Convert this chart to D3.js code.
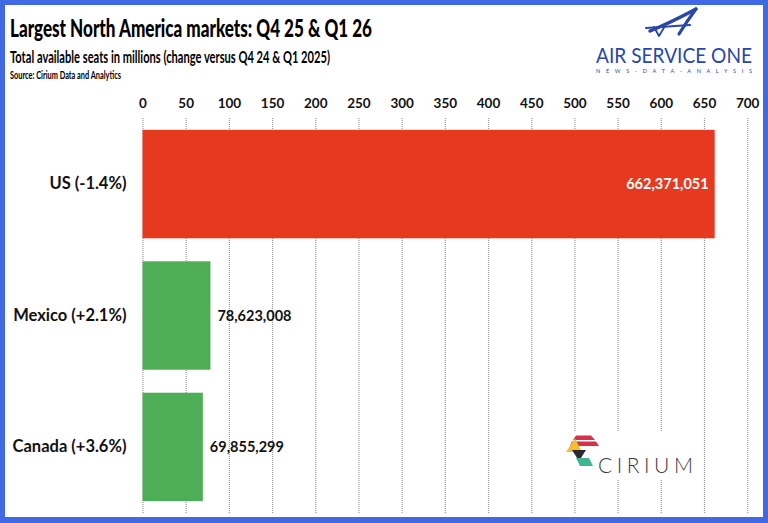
<!DOCTYPE html>
<html>
<head>
<meta charset="utf-8">
<script src="https://cdn.jsdelivr.net/npm/d3@7"></script>
<style>
  html, body { margin: 0; padding: 0; background: #fff; }
  svg { display: block; }
  text { font-family: "Lato", "Open Sans", sans-serif; }
</style>
</head>
<body>
<div id="chart"></div>
<script>
// chart data
var categories = ["US (-1.4%)", "Mexico (+2.1%)", "Canada (+3.6%)"];
var seats = [662371051, 78623008, 69855299];
var barColors = ["#e6391f", "#4fad57"];
var tickValues = [0, 50, 100, 150, 200, 250, 300, 350, 400, 450, 500, 550, 600, 650, 700];

var W = 768, H = 523;
var BLUE = "#4169e1";
var LOGO_BLUE = "#2a47a6";

var svg = d3.select("#chart").append("svg")
    .attr("width", W)
    .attr("height", H);

// frame
svg.append("rect").attr("width", W).attr("height", H).attr("fill", BLUE);
svg.append("rect")
    .attr("x", 5).attr("y", 5)
    .attr("width", W - 10).attr("height", H - 11)
    .attr("fill", "#fff");

// titles
svg.append("text")
    .attr("x", 10).attr("y", 37)
    .attr("font-size", 25).attr("font-weight", 900)
    .attr("textLength", 362).attr("lengthAdjust", "spacingAndGlyphs")
    .text("Largest North America markets: Q4 25 & Q1 26");
svg.append("text")
    .attr("x", 10).attr("y", 63)
    .attr("font-size", 17).attr("font-weight", 700)
    .attr("textLength", 320).attr("lengthAdjust", "spacingAndGlyphs")
    .text("Total available seats in millions (change versus Q4 24 & Q1 2025)");
svg.append("text")
    .attr("x", 10).attr("y", 79)
    .attr("font-size", 11.5).attr("font-weight", 700)
    .attr("textLength", 111).attr("lengthAdjust", "spacingAndGlyphs")
    .text("Source: Cirium Data and Analytics");

// scales
var x = d3.scaleLinear().domain([0, 700]).range([142.5, 747.2]);
var y = d3.scaleBand().domain(categories).range([118, 513])
    .paddingInner(0.175).paddingOuter(0.09);

// grid lines
var grid = svg.append("g")
    .attr("transform", "translate(0,118)")
    .call(d3.axisBottom(x).tickValues(tickValues).tickSize(395).tickFormat(""));
grid.select(".domain").remove();
grid.selectAll("line")
    .attr("stroke", "#9a9a9a")
    .attr("stroke-width", 1.2)
    .attr("stroke-dasharray", "1,1");

// top axis labels
var xAxis = svg.append("g")
    .attr("transform", "translate(0,108)")
    .call(d3.axisTop(x).tickValues(tickValues).tickSize(0).tickPadding(0));
xAxis.select(".domain").remove();
xAxis.selectAll("text")
    .attr("font-family", "Lato, sans-serif")
    .attr("font-size", 13.5).attr("font-weight", 700)
    .attr("fill", "#111");

// bars
var rows = categories.map(function (c, i) {
    return { cat: c, value: seats[i] / 1e6, raw: seats[i], i: i };
});

svg.append("g").selectAll("rect")
    .data(rows)
    .enter().append("rect")
    .attr("x", x(0))
    .attr("y", function (d) { return y(d.cat); })
    .attr("width", function (d) { return x(d.value) - x(0); })
    .attr("height", y.bandwidth())
    .attr("fill", function (d) { return d.i === 0 ? barColors[0] : barColors[1]; });

// value labels
var fmt = d3.format(",");
svg.append("g").selectAll("text")
    .data(rows)
    .enter().append("text")
    .attr("x", function (d) { return d.i === 0 ? x(d.value) - 6 : x(d.value) + 7; })
    .attr("y", function (d) { return y(d.cat) + y.bandwidth() / 2; })
    .attr("dy", "0.35em")
    .attr("text-anchor", function (d) { return d.i === 0 ? "end" : "start"; })
    .attr("font-size", 14.5).attr("font-weight", 700)
    .attr("fill", function (d) { return d.i === 0 ? "#fff" : "#111"; })
    .text(function (d) { return fmt(d.raw); });

// category labels
var yAxis = svg.append("g")
    .attr("transform", "translate(" + x(0) + ",0)")
    .call(d3.axisLeft(y).tickSize(0).tickPadding(16));
yAxis.select(".domain").remove();
yAxis.selectAll("text")
    .attr("font-family", "Lato, sans-serif")
    .attr("font-size", 16.5).attr("font-weight", 700)
    .attr("fill", "#111");

// Air Service One logo
var aso = svg.append("g").attr("fill", "none").attr("stroke", LOGO_BLUE)
    .attr("stroke-linecap", "round").attr("stroke-linejoin", "round");
aso.append("path").attr("d", "M650,31 Q672,22 696,9").attr("stroke-width", 3.4);
aso.append("path").attr("d", "M696,9 Q687,21 679,34").attr("stroke-width", 3.2);
aso.append("path").attr("d", "M646,28 L690,25").attr("stroke-width", 2.2);
aso.append("path").attr("d", "M654,27 L659,36 L665,26").attr("stroke-width", 1.8);

svg.append("text")
    .attr("x", 596).attr("y", 63)
    .attr("font-family", "Liberation Sans, Arial, sans-serif")
    .attr("font-size", 20.5)
    .attr("fill", LOGO_BLUE)
    .attr("textLength", 156).attr("lengthAdjust", "spacingAndGlyphs")
    .text("AIR SERVICE ONE");
svg.append("text")
    .attr("x", 596).attr("y", 73)
    .attr("font-family", "Liberation Sans, Arial, sans-serif")
    .attr("font-size", 5.5)
    .attr("fill", LOGO_BLUE)
    .attr("textLength", 156).attr("lengthAdjust", "spacing")
    .text("N E W S   -   D A T A   -   A N A L Y S I S");

// Cirium logo
var cir = svg.append("g");
cir.append("rect")
    .attr("x", 565).attr("y", 431).attr("width", 130).attr("height", 49)
    .attr("fill", "#fff");
cir.append("polygon").attr("points", "576,435.5 591,435.5 595,440 573,440").attr("fill", "#d8314b");
cir.append("polygon").attr("points", "572,441.5 596,441.5 599,446 570,446").attr("fill", "#d8314b");
cir.append("polygon").attr("points", "566,452 575,438.5 582,452").attr("fill", "#f2bf2e");
cir.append("polygon").attr("points", "572,450 586,450 579,461").attr("fill", "#2b2b2b");
cir.append("polygon").attr("points", "576,458 589,458 593,466 580,466").attr("fill", "#3fb68e");
cir.append("text")
    .attr("x", 598).attr("y", 473)
    .attr("font-family", "Lato, sans-serif")
    .attr("font-weight", 300)
    .attr("font-size", 21)
    .attr("fill", "#3a3a3a")
    .attr("textLength", 95).attr("lengthAdjust", "spacing")
    .text("CIRIUM");
</script>
</body>
</html>
